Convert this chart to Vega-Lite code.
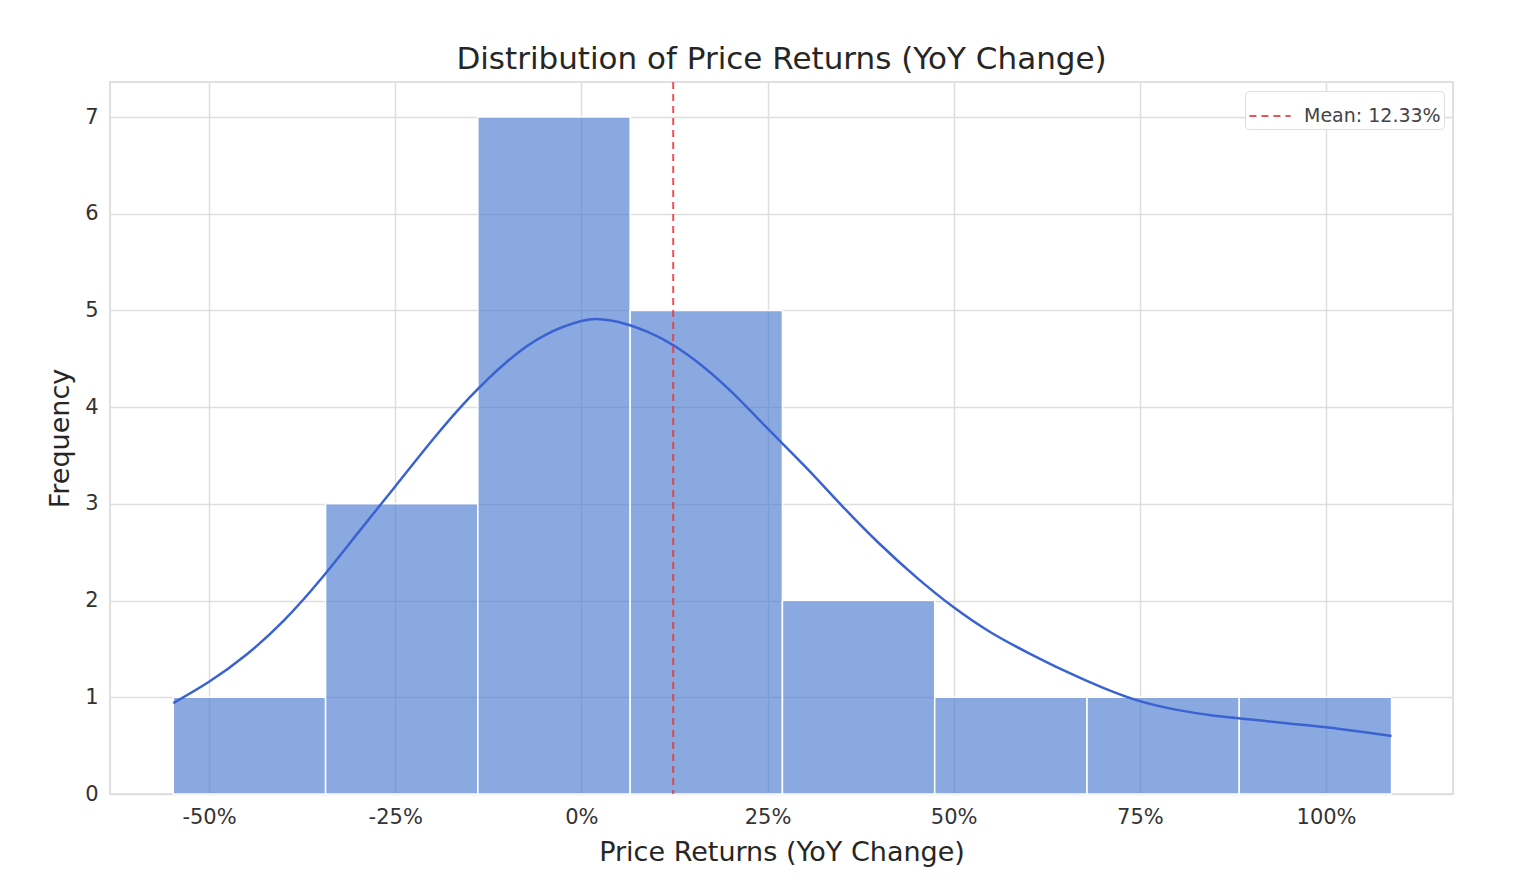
{
  "$schema": "https://vega.github.io/schema/vega-lite/v6.json",
  "width": 1343,
  "height": 712,
  "autosize": {"type": "none"},
  "padding": {"left": 110, "top": 82, "right": 85, "bottom": 100},
  "background": "white",
  "title": {
    "text": "Distribution of Price Returns (YoY Change)",
    "font": "DejaVu Sans",
    "fontSize": 31,
    "fontWeight": "normal",
    "color": "#262626",
    "anchor": "middle",
    "offset": 5
  },
  "config": {
    "view": {"stroke": "#d6d6d6", "strokeWidth": 1.5},
    "axis": {
      "labelFont": "DejaVu Sans",
      "titleFont": "DejaVu Sans",
      "labelColor": "#333333",
      "titleColor": "#262626",
      "titleFontWeight": "normal",
      "gridColor": "#dedede",
      "gridWidth": 1.5,
      "domain": false,
      "ticks": false
    }
  },
  "datasets": {
    "bins": [
      {"bin_start": -54.8, "bin_end": -34.35, "count": 1},
      {"bin_start": -34.35, "bin_end": -13.9, "count": 3},
      {"bin_start": -13.9, "bin_end": 6.55, "count": 7},
      {"bin_start": 6.55, "bin_end": 27.0, "count": 5},
      {"bin_start": 27.0, "bin_end": 47.45, "count": 2},
      {"bin_start": 47.45, "bin_end": 67.9, "count": 1},
      {"bin_start": 67.9, "bin_end": 88.35, "count": 1},
      {"bin_start": 88.35, "bin_end": 108.8, "count": 1}
    ],
    "kde": [
      {"ret": -54.8, "density": 0.94},
      {"ret": -50, "density": 1.16},
      {"ret": -45, "density": 1.44},
      {"ret": -40, "density": 1.79},
      {"ret": -35, "density": 2.22},
      {"ret": -30, "density": 2.70},
      {"ret": -25, "density": 3.18},
      {"ret": -20, "density": 3.66},
      {"ret": -15, "density": 4.10},
      {"ret": -10, "density": 4.47},
      {"ret": -5, "density": 4.74},
      {"ret": 0, "density": 4.89},
      {"ret": 2.5, "density": 4.91},
      {"ret": 5, "density": 4.88},
      {"ret": 10, "density": 4.74},
      {"ret": 15, "density": 4.50},
      {"ret": 20, "density": 4.17},
      {"ret": 25, "density": 3.78},
      {"ret": 30, "density": 3.39},
      {"ret": 35, "density": 2.98},
      {"ret": 40, "density": 2.59},
      {"ret": 45, "density": 2.24},
      {"ret": 50, "density": 1.93},
      {"ret": 55, "density": 1.67},
      {"ret": 60, "density": 1.46},
      {"ret": 65, "density": 1.27},
      {"ret": 70, "density": 1.10},
      {"ret": 75, "density": 0.96},
      {"ret": 80, "density": 0.87},
      {"ret": 85, "density": 0.81},
      {"ret": 90, "density": 0.77},
      {"ret": 95, "density": 0.73},
      {"ret": 100, "density": 0.69},
      {"ret": 105, "density": 0.64},
      {"ret": 108.8, "density": 0.60}
    ],
    "mean": [{"ret": 12.33, "label": "Mean: 12.33%"}]
  },
  "layer": [
    {
      "data": {"name": "bins"},
      "mark": {"type": "bar", "fill": "#4878d0", "fillOpacity": 0.64, "stroke": "white", "strokeWidth": 1.5},
      "encoding": {
        "x": {
          "field": "bin_start",
          "type": "quantitative",
          "scale": {"domain": [-63.3, 117.05], "nice": false, "zero": false},
          "axis": {
            "values": [-50, -25, 0, 25, 50, 75, 100],
            "labelExpr": "datum.value + '%'",
            "labelFontSize": 21,
            "labelPadding": 12,
            "title": "Price Returns (YoY Change)",
            "titleFontSize": 27,
            "titlePadding": 12
          }
        },
        "x2": {"field": "bin_end"},
        "y": {
          "field": "count",
          "type": "quantitative",
          "scale": {"domain": [0, 7.362], "nice": false},
          "axis": {
            "values": [0, 1, 2, 3, 4, 5, 6, 7],
            "format": "d",
            "labelFontSize": 21,
            "labelPadding": 12,
            "title": "Frequency",
            "titleFontSize": 27,
            "titlePadding": 10
          }
        },
        "y2": {"datum": 0}
      }
    },
    {
      "data": {"name": "kde"},
      "mark": {"type": "line", "color": "#3a63d1", "strokeWidth": 2.5, "interpolate": "natural"},
      "encoding": {
        "x": {"field": "ret", "type": "quantitative"},
        "y": {"field": "density", "type": "quantitative"}
      }
    },
    {
      "data": {"name": "mean"},
      "mark": {"type": "rule", "strokeDash": [7, 5], "strokeWidth": 2, "opacity": 0.85},
      "encoding": {
        "x": {"field": "ret", "type": "quantitative"},
        "color": {
          "field": "label",
          "type": "nominal",
          "scale": {"range": ["#e8383d"]},
          "legend": {
            "title": null,
            "orient": "top-right",
            "offset": 9,
            "symbolType": "stroke",
            "symbolDash": [7, 5],
            "symbolStrokeWidth": 2,
            "symbolSize": 1700,
            "labelFont": "DejaVu Sans",
            "labelFontSize": 19,
            "labelColor": "#444444",
            "labelOffset": 12,
            "strokeColor": "#dddddd",
            "fillColor": "white",
            "cornerRadius": 4,
            "padding": 3
          }
        }
      }
    }
  ]
}
